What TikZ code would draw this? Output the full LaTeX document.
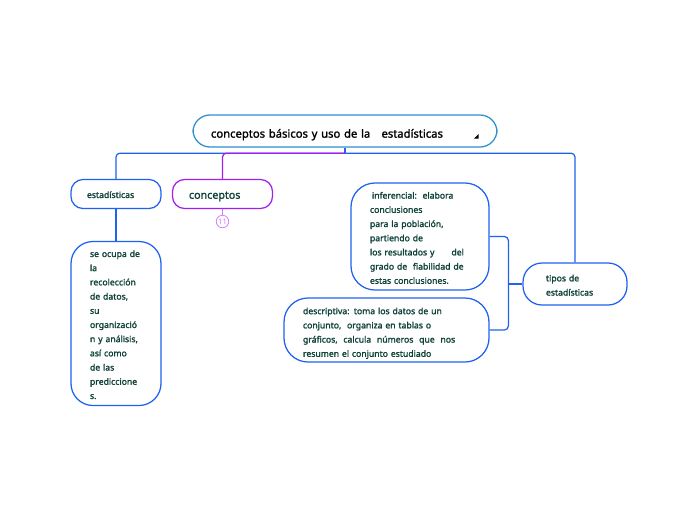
\documentclass[tikz,border=0pt]{standalone}
\usepackage{fontspec}
\setmainfont[FakeBold=1.6]{Noto Sans}
\definecolor{linkblue}{HTML}{1F62F0}
\definecolor{txtgreen}{HTML}{0E4238}
\definecolor{titleblue}{HTML}{2E8FD0}
\definecolor{purp}{HTML}{A31FF0}
\definecolor{lilac}{HTML}{CC77FF}
\newcommand\dropby[1]{\rule{0pt}{\dimexpr 9pt+2\dimexpr #1pt\relax\relax}}
\tikzset{
  box/.style={draw=linkblue,line width=1.25pt,rounded corners=17pt,fill=white,inner xsep=0pt,inner ysep=0pt,align=left,text=txtgreen,font=\fontsize{8.65}{14.2}\selectfont},
  link/.style={draw=linkblue,line width=1.25pt,rounded corners=4pt},
}
\begin{document}
\begin{tikzpicture}[x=1pt,y=-1pt]
\useasboundingbox[fill=white] (0,0) rectangle (697,520);
% nodes
\node[box,draw=titleblue,text=black,font=\fontsize{11.25}{14}\selectfont,minimum width=304pt,minimum height=32pt,text width=268pt] (title) at (345,131) {\dropby{3.5}conceptos básicos y uso de la\ \ \ estadísticas};
\node[box,rounded corners=12pt,minimum width=90pt,minimum height=29pt,text width=58pt] (est) at (116,194) {\dropby{-0.5}estadísticas};
\node[box,draw=purp,rounded corners=12pt,font=\fontsize{10.7}{14}\selectfont,minimum width=100pt,minimum height=29pt,text width=67pt] (conc) at (222.5,194) {\dropby{1.5}conceptos};
\node[draw=lilac,circle,line width=0.7pt,minimum size=12.5pt,inner sep=0pt,text=lilac,font=\fontsize{7.5}{8}\selectfont\addfontfeature{FakeBold=0}] (num) at (222.5,221.5) {11};
\node[box,rounded corners=22pt,minimum width=90pt,minimum height=164pt,text width=52pt] (ocupa) at (116,323.5) {\dropby{0}se ocupa de\\la\\recolección\\de datos,\\su\\organizació\\n y análisis,\\así como\\de las\\prediccione\\s.};
\node[box,rounded corners=24pt,minimum width=138pt,minimum height=107pt,text width=100pt] (inf) at (420,236.5) {\dropby{0.25}\hspace*{2pt}inferencial:\ \ elabora\\conclusiones\\para la población,\\partiendo de\\los resultados y\hspace{17pt}del\\grado de\ \ fiabilidad de\\estas conclusiones.};
\node[box,rounded corners=24pt,minimum width=205pt,minimum height=64pt,text width=167pt] (desc) at (386.5,330) {\dropby{2}descriptiva: toma los datos de un\\conjunto,\ \ organiza en tablas o\\gráficos,\ \ calcula\ \ números\ \ que\ \ nos\\resumen el conjunto estudiado};
\node[box,rounded corners=19pt,minimum width=104pt,minimum height=42pt,text width=58pt] (tipos) at (575,284) {\dropby{0}tipos de\\estadísticas};
\coordinate (mark) at (478.5,134);
\path (title.south) ++(0,5.5) coordinate (bus);
\path (tipos.west) ++(-14,0) coordinate (junc);
% connectors
\draw[link] (title.south) -- (bus);
\draw[link] (bus) -| (est.north);
\draw[link] (bus) -| (tipos.north);
\draw[link,draw=purp] (bus) -| (conc.north);
\draw[link] (est.south) -- (ocupa.north);
\draw[draw=lilac,line width=0.8pt] (conc.south) -- (num.north);
\draw[link] (tipos.west) -- (junc);
\draw[link] (junc) |- (inf.east);
\draw[link] (junc) |- (desc.east);
% collapse marker
\fill[black] (mark) -- ++(0,4.5) -- ++(-4.5,0) -- cycle;
\end{tikzpicture}
\end{document}
